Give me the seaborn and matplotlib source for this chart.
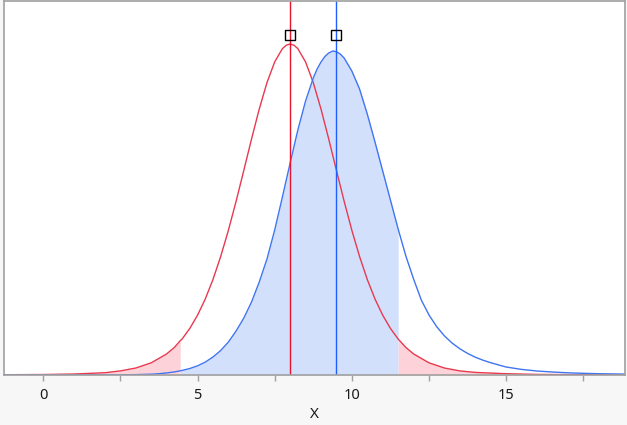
import matplotlib
matplotlib.use("Agg")
import matplotlib.pyplot as plt
import seaborn as sns
import numpy as np

sns.set_style("white")
plt.rcParams['font.family'] = ['Noto Sans', 'DejaVu Sans']

# null distribution (red), density values
red_x = [-1.27, 0.0, 1.0, 2.0, 2.5, 3.0, 3.5, 4.0, 4.25, 4.44, 4.5, 4.75, 5.0, 5.25,
         5.5, 5.75, 6.0, 6.25, 6.5, 6.75, 7.0, 7.25, 7.5, 7.75, 7.875, 8.0, 8.125, 8.25,
         8.5, 8.75, 9.0, 9.25, 9.5, 9.75, 10.0, 10.25, 10.5, 10.75, 11.0, 11.25, 11.5,
         11.75, 12.0, 12.5, 13.0, 13.5, 14.0, 15.0, 16.0, 17.0, 18.85]
red_y = [0.0003, 0.0005, 0.0010, 0.0023, 0.0041, 0.0070, 0.0122, 0.0211, 0.0276, 0.0343,
         0.0360, 0.0466, 0.0598, 0.0760, 0.0955, 0.1185, 0.1447, 0.1738, 0.2047, 0.2361,
         0.2660, 0.2924, 0.3131, 0.3264, 0.3298, 0.3310, 0.3298, 0.3264, 0.3131, 0.2924,
         0.2660, 0.2361, 0.2047, 0.1738, 0.1447, 0.1185, 0.0955, 0.0760, 0.0598, 0.0466,
         0.0360, 0.0276, 0.0211, 0.0122, 0.0070, 0.0041, 0.0026, 0.0013, 0.0006, 0.0004,
         0.0002]

# alternative distribution (blue)
blue_x = [-1.27, 1.5, 2.5, 3.0, 3.5, 3.75, 4.0, 4.25, 4.44, 4.5, 4.75, 5.0, 5.25, 5.5,
          5.75, 6.0, 6.25, 6.5, 6.75, 7.0, 7.25, 7.5, 7.75, 8.0, 8.25, 8.5, 8.75, 8.875,
          9.0, 9.125, 9.25, 9.38, 9.5, 9.625, 9.75, 10.0, 10.25, 10.5, 10.75, 11.0, 11.25,
          11.5, 11.75, 12.0, 12.25, 12.5, 12.75, 13.0, 13.25, 13.5, 13.75, 14.0, 14.25,
          14.5, 14.75, 15.0, 15.5, 16.0, 16.5, 17.0, 17.5, 18.0, 18.85]
blue_y = [0.0000, 0.0001, 0.0002, 0.0004, 0.0008, 0.0013, 0.0021, 0.0031, 0.0042, 0.0046,
          0.0065, 0.0092, 0.0129, 0.0180, 0.0245, 0.0330, 0.0440, 0.0570, 0.0730, 0.0930,
          0.1160, 0.1450, 0.1780, 0.2120, 0.2450, 0.2740, 0.2970, 0.3060, 0.3130, 0.3185,
          0.3220, 0.3240, 0.3233, 0.3210, 0.3170, 0.3040, 0.2860, 0.2610, 0.2330, 0.2040,
          0.1750, 0.1460, 0.1190, 0.0960, 0.0750, 0.0600, 0.0483, 0.0391, 0.0319, 0.0262,
          0.0216, 0.0178, 0.0148, 0.0123, 0.0101, 0.0080, 0.0056, 0.0040, 0.0030, 0.0022,
          0.0017, 0.0013, 0.0009]

crit_lo, crit_hi = 4.44, 11.5
means = [8.0, 9.49]
peak_mark = [0.340, 0.340]

RED = "#E8394F"
BLUE = "#3F74F2"

fig = plt.figure(figsize=(6.27, 4.25), dpi=100, facecolor="#F7F7F7")
ax = fig.add_axes([0.0064, 0.1176, 0.9904, 0.88])
ax.set_facecolor("white")

rx, ry = np.array(red_x), np.array(red_y)
bx, by = np.array(blue_x), np.array(blue_y)

# shaded regions: beta under the alternative, alpha tails under the null
ax.fill_between(bx, 0, by, where=(bx >= crit_lo) & (bx <= crit_hi), color="#D3E0FC", lw=0)
ax.fill_between(rx, 0, ry, where=rx <= crit_lo, color="#FDD3D9", lw=0)
ax.fill_between(rx, 0, ry, where=rx >= crit_hi, color="#FDD3D9", lw=0)

sns.lineplot(x=red_x, y=red_y, color=RED, lw=1.0, ax=ax, sort=False)
sns.lineplot(x=blue_x, y=blue_y, color=BLUE, lw=1.0, ax=ax, sort=False)

ax.axvline(means[0], color="#E8142D", lw=1.0)
ax.axvline(means[1], color="#1F5FFF", lw=1.0)
ax.scatter(means, peak_mark, marker="s", s=48, facecolors="none",
           edgecolors="black", linewidths=1.0, zorder=5)

ax.set_xlim(-1.27, 18.85)
ax.set_ylim(0, 0.374)
ax.set_yticks([])
ax.set_xticks([0, 5, 10, 15])
ax.set_xticks([2.5, 7.5, 12.5, 17.5], minor=True)
ax.tick_params(axis="x", which="both", direction="out", length=4, width=1,
               color="#A0A0A0", labelsize=10.5, labelcolor="#1A1A1A", bottom=True, pad=5)
ax.set_xlabel("X", fontsize=11, color="#1A1A1A", labelpad=3)
for s in ax.spines.values():
    s.set_color("#A0A0A0")
    s.set_linewidth(1.2)

fig.savefig("out.png", dpi=100, facecolor=fig.get_facecolor())
